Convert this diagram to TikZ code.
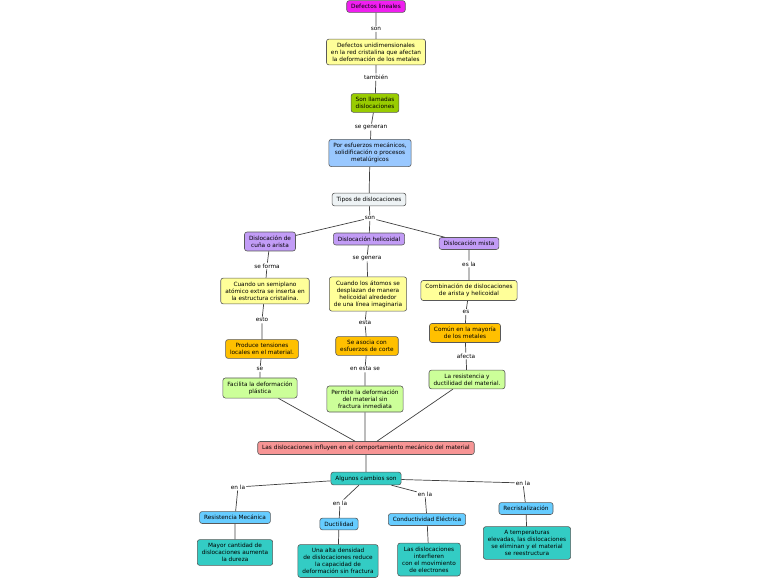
\documentclass[tikz,border=0pt]{standalone}
\usepackage{fontspec}
\setmainfont{DejaVu Sans}
\usetikzlibrary{positioning}

\definecolor{cMagenta}{HTML}{F01EF0}
\definecolor{cYellow}{HTML}{FFFF99}
\definecolor{cOlive}{HTML}{99CC00}
\definecolor{cBlue}{HTML}{99C8FF}
\definecolor{cGray}{HTML}{EEF3F5}
\definecolor{cPurple}{HTML}{C29CF6}
\definecolor{cOrange}{HTML}{FFC000}
\definecolor{cLime}{HTML}{CCFF99}
\definecolor{cSalmon}{HTML}{F79595}
\definecolor{cTeal}{HTML}{33CCC4}
\definecolor{cSky}{HTML}{66CCFF}

\tikzset{
  box/.style={draw=black!65, line width=0.6bp, rounded corners=2.5bp,
    align=center, inner xsep=4.5bp, inner ysep=3.6bp,
    font=\fontsize{5.8}{7.1}\selectfont},
  lbl/.style={fill=white, inner sep=1bp, font=\fontsize{5.8}{7.1}\selectfont},
  link/.style={draw=black!75, line width=0.7bp}
}

\begin{document}
\begin{tikzpicture}[x=1bp,y=-1bp]
  \useasboundingbox (0,0) rectangle (768,578);

  % upper chain
  \node[box, fill=cMagenta] (def) at (376,6.5) {Defectos lineales};
  \node[lbl] (sonA) at (376,29) {son};
  \node[box, fill=cYellow] (unidim) at (376,52)
    {Defectos unidimensionales\\en la red cristalina que afectan\\la deformación de los metales};
  \node[lbl] (tambien) at (376,77) {también};
  \node[box, fill=cOlive] (llamadas) at (375,103) {Son llamadas\\dislocaciones};
  \node[lbl] (generan) at (371,127) {se generan};
  \node[box, fill=cBlue] (esfuerzos) at (370,153)
    {Por esfuerzos mecánicos,\\solidificación o procesos\\metalúrgicos};
  \node[box, fill=cGray] (tipos) at (369,199.5) {Tipos de dislocaciones};
  \node[lbl] (sonB) at (370,218) {son};

  % three kinds
  \node[box, fill=cPurple] (cuna) at (270,241.5) {Dislocación de\\cuña o arista};
  \node[box, fill=cPurple] (helic) at (369,239) {Dislocación helicoidal};
  \node[box, fill=cPurple] (mixta) at (469,243.5) {Dislocación mista};

  \node[lbl] (forma) at (267,266) {se forma};
  \node[lbl] (genera) at (367,258) {se genera};
  \node[lbl] (esla) at (469,264) {es la};

  \node[box, fill=cYellow] (semipl) at (265,291)
    {Cuando un semiplano\\atómico extra se inserta en\\la estructura cristalina.};
  \node[box, fill=cYellow] (atomos) at (368,294)
    {Cuando los átomos se\\desplazan de manera\\helicoidal alrededor\\de una línea imaginaria};
  \node[box, fill=cYellow] (combin) at (469,290.5)
    {Combinación de dislocaciones\\de arista y helicoidal};

  \node[lbl] (esto) at (262,320) {esto};
  \node[lbl] (esta) at (365,323) {esta};
  \node[lbl] (es) at (466,312) {es};

  \node[box, fill=cOrange] (tension) at (262,349) {Produce tensiones\\locales en el material.};
  \node[box, fill=cOrange] (corte) at (367,346) {Se asocia con\\esfuerzos de corte};
  \node[box, fill=cOrange] (comun) at (465,333) {Común en la mayoría\\de los metales};

  \node[lbl] (se) at (260,369) {se};
  \node[lbl] (enesta) at (365,369) {en esta se};
  \node[lbl] (afecta) at (466,356) {afecta};

  \node[box, fill=cLime] (plastica) at (260,388) {Facilita la deformación\\plástica};
  \node[box, fill=cLime] (fractura) at (365,399)
    {Permite la deformación\\del material sin\\fractura inmediata};
  \node[box, fill=cLime] (ductil) at (467,379.5) {La resistencia y\\ductilidad del material.};

  % lower part
  \node[box, fill=cSalmon] (influyen) at (366,448)
    {Las dislocaciones influyen en el comportamiento mecánico del material};
  \node[box, fill=cTeal] (cambios) at (366,478.5) {Algunos cambios son};

  \node[lbl] (enlaA) at (238,487) {en la};
  \node[lbl] (enlaB) at (340,503) {en la};
  \node[lbl] (enlaC) at (425,494) {en la};
  \node[lbl] (enlaD) at (523,483) {en la};

  \node[box, fill=cSky] (resist) at (235,517.5) {Resistencia Mecánica};
  \node[box, fill=cSky] (ductilidad) at (339,524) {Ductilidad};
  \node[box, fill=cSky] (conduct) at (427,519.5) {Conductividad Eléctrica};
  \node[box, fill=cSky] (recrist) at (526,508.5) {Recristalización};

  \node[box, fill=cTeal] (dureza) at (235,552.5)
    {Mayor cantidad de\\dislocaciones aumenta\\la dureza};
  \node[box, fill=cTeal] (densidad) at (338,561)
    {Una alta densidad\\de dislocaciones reduce\\la capacidad de\\deformación sin fractura};
  \node[box, fill=cTeal] (electrones) at (429,559.5)
    {Las dislocaciones\\interfieren\\con el movimiento\\de electrones};
  \node[box, fill=cTeal] (temper) at (527,543)
    {A temperaturas\\elevadas, las dislocaciones\\se eliminan y el material\\se reestructura};

  % connectors
  \path[link]
    (def) -- (sonA) -- (unidim)
    (unidim) -- (tambien) -- (llamadas)
    (llamadas) -- (generan) -- (esfuerzos)
    (esfuerzos) -- (tipos)
    (tipos) -- (sonB)
    (sonB) -- (cuna)
    (sonB) -- (helic)
    (sonB) -- (mixta)
    (cuna) -- (forma) -- (semipl)
    (semipl) -- (esto) -- (tension)
    (tension) -- (se) -- (plastica)
    (helic) -- (genera) -- (atomos)
    (atomos) -- (esta) -- (corte)
    (corte) -- (enesta) -- (fractura)
    (mixta) -- (esla) -- (combin)
    (combin) -- (es) -- (comun)
    (comun) -- (afecta) -- (ductil)
    (plastica) -- ([xshift=-11bp]influyen.north)
    (fractura) -- ([xshift=-1bp]influyen.north)
    (ductil) -- ([xshift=11bp]influyen.north)
    (influyen) -- (cambios)
    (cambios) -- (enlaA) -- (resist)
    (cambios) -- (enlaB) -- (ductilidad)
    (cambios) -- (enlaC) -- (conduct)
    (cambios) -- (enlaD) -- (recrist)
    (resist) -- (dureza)
    (ductilidad) -- (densidad)
    (conduct) -- (electrones)
    (recrist) -- (temper);
\end{tikzpicture}
\end{document}
